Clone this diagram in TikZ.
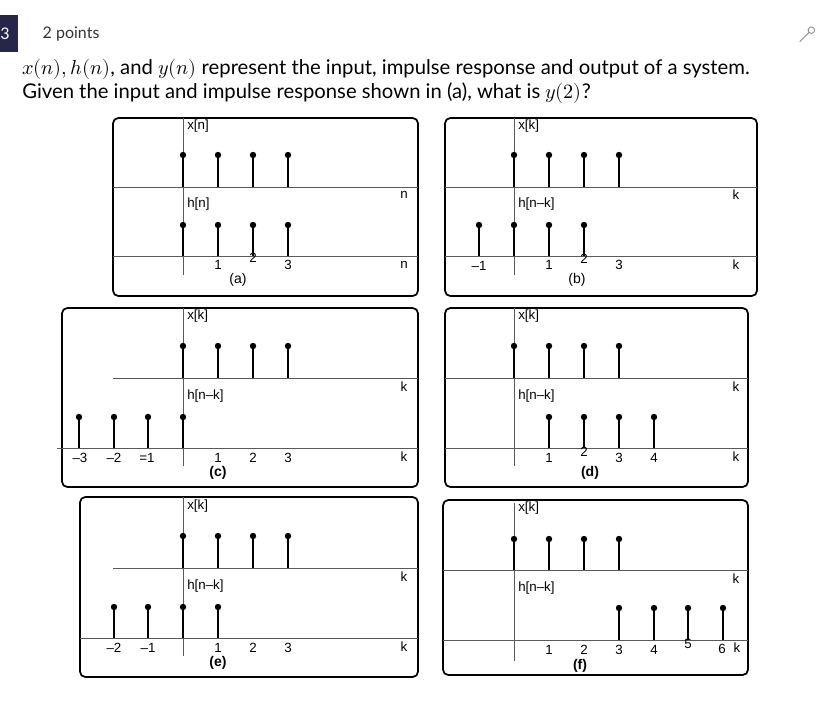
\documentclass[tikz,border=0pt]{standalone}
\usepackage{fontspec}
\setmainfont{Lato}
\newfontfamily\hv{Liberation Sans}
\usepackage{unicode-math}
\setmathfont{Latin Modern Math}
\begin{document}
\begin{tikzpicture}[x=0.75pt,y=-0.75pt,
  frame/.style={draw,line width=1.3pt,rounded corners=4pt},
  ax/.style={draw,gray!70!black,line width=0.6pt},
  stem/.style={line width=1.2pt},
  lb/.style={font=\hv\fontsize{10}{11}\selectfont,inner sep=0pt},
  pcap/.style={font=\hv\fontsize{10.5}{12}\selectfont,inner sep=0pt},
  bcap/.style={font=\hv\bfseries\fontsize{10.5}{12}\selectfont,inner sep=0pt}]
\useasboundingbox (0,0) rectangle (831,711);
% header
\fill[black!80!blue!70!gray] (0,15) rectangle (18,52);
\node[text=white,font=\fontsize{12}{14}\selectfont] (num) at (5,34) {3};
\node[anchor=west,font=\fontsize{12}{14}\selectfont,text=black!80] (pts) at (38,34) {2 points};
\node[font=\fontsize{18}{20}\selectfont,text=gray] (pin) at (808,36) {\rotatebox{45}{$\multimap$}};
\node[anchor=west,font=\fontsize{15.2}{17}\selectfont,inner sep=0pt] (l1) at (22,69) {$x(n), h(n)$, and $y(n)$ represent the input, impulse response and output of a system.};
\node[anchor=west,font=\fontsize{15.2}{17}\selectfont,inner sep=0pt] (l2) at (22,93) {Given the input and impulse response shown in (a), what is $y(2)$?};
\def\stm#1#2#3{\draw[stem] (#1,#2) -- (#1,#3); \fill (#1,#3) circle (3.2);}
% ---------- (a)
\draw[frame] (113,118) rectangle (418,296);
\draw[ax] (113,187) -- (418,187); \draw[ax] (113,256) -- (418,256); \draw[ax] (183,118) -- (183,275);
\foreach \x in {183,218,253,288}{\stm{\x}{187}{155}\stm{\x}{256}{225}}
\node[lb,anchor=west] at (187,126) {x[n]};
\node[lb,anchor=west] at (187,204) {h[n]};
\node[lb] at (404,195) {n}; \node[lb] at (404,265) {n};
\node[lb] at (218,265) {1}; \node[lb] at (253,258) {2}; \node[lb] at (288,265) {3};
\node[pcap] at (238,280) {(a)};
% ---------- (b)
\draw[frame] (445,118) rectangle (757,296);
\draw[ax] (445,187) -- (757,187); \draw[ax] (445,256) -- (757,256); \draw[ax] (514,118) -- (514,275);
\foreach \x in {514,549,584,619}{\stm{\x}{187}{155}}
\foreach \x in {479,514,549,584}{\stm{\x}{256}{225}}
\node[lb,anchor=west] at (518,126) {x[k]};
\node[lb,anchor=west] at (518,204) {h[n–k]};
\node[lb] at (736,195) {k}; \node[lb] at (736,265) {k};
\node[lb] at (479,266) {–1}; \node[lb] at (549,265) {1}; \node[lb] at (584,259) {2}; \node[lb] at (619,265) {3};
\node[pcap] at (577,280) {(b)};
% ---------- (c)
\draw[frame] (62,308) rectangle (418,487);
\draw[ax] (113,378) -- (418,378); \draw[ax] (57,448) -- (418,448); \draw[ax] (183,308) -- (183,466);
\foreach \x in {183,218,253,288}{\stm{\x}{378}{346}}
\foreach \x in {79,114,148,183}{\stm{\x}{448}{417}}
\node[lb,anchor=west] at (187,316) {x[k]};
\node[lb,anchor=west] at (187,396) {h[n–k]};
\node[lb] at (404,387) {k}; \node[lb] at (404,457) {k};
\node[lb] at (80,458) {–3}; \node[lb] at (114,458) {–2}; \node[lb] at (147,458) {=1};
\node[lb] at (218,458) {1}; \node[lb] at (253,458) {2}; \node[lb] at (288,458) {3};
\node[bcap] at (218,473) {(c)};
% ---------- (d)
\draw[frame] (445,308) rectangle (748,487);
\draw[ax] (445,378) -- (748,378); \draw[ax] (445,448) -- (748,448); \draw[ax] (514,308) -- (514,466);
\foreach \x in {514,549,584,619}{\stm{\x}{378}{346}}
\foreach \x in {549,584,619,654}{\stm{\x}{448}{417}}
\node[lb,anchor=west] at (518,316) {x[k]};
\node[lb,anchor=west] at (518,396) {h[n–k]};
\node[lb] at (736,387) {k}; \node[lb] at (736,457) {k};
\node[lb] at (549,458) {1}; \node[lb] at (584,452) {2}; \node[lb] at (619,458) {3}; \node[lb] at (654,458) {4};
\node[bcap] at (590,473) {(d)};
% ---------- (e)
\draw[frame] (80,497) rectangle (418,677);
\draw[ax] (113,568) -- (418,568); \draw[ax] (80,638) -- (418,638); \draw[ax] (183,497) -- (183,656);
\foreach \x in {183,218,253,288}{\stm{\x}{568}{536}}
\foreach \x in {114,148,183,218}{\stm{\x}{638}{607}}
\node[lb,anchor=west] at (187,506) {x[k]};
\node[lb,anchor=west] at (187,586) {h[n–k]};
\node[lb] at (404,577) {k}; \node[lb] at (404,647) {k};
\node[lb] at (114,648) {–2}; \node[lb] at (148,648) {–1};
\node[lb] at (218,648) {1}; \node[lb] at (253,648) {2}; \node[lb] at (288,648) {3};
\node[bcap] at (218,663) {(e)};
% ---------- (f)
\draw[frame] (443,500) rectangle (748,675);
\draw[ax] (443,570) -- (748,570); \draw[ax] (443,640) -- (748,640); \draw[ax] (514,503) -- (514,661);
\foreach \x in {514,549,584,619}{\stm{\x}{570}{539}}
\foreach \x in {619,654,688,723}{\stm{\x}{640}{608}}
\node[lb,anchor=west] at (518,508) {x[k]};
\node[lb,anchor=west] at (518,588) {h[n–k]};
\node[lb] at (736,579) {k}; \node[lb] at (737,648) {k};
\node[lb] at (549,650) {1}; \node[lb] at (584,650) {2}; \node[lb] at (619,650) {3}; \node[lb] at (654,650) {4};
\node[lb] at (688,644) {5}; \node[lb] at (722,649) {6};
\node[bcap] at (580,666) {(f)};
\end{tikzpicture}
\end{document}
